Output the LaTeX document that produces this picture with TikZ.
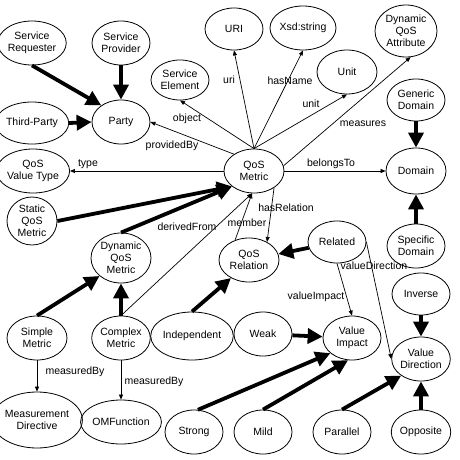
\documentclass[tikz,border=0pt]{standalone}
\usepackage{fontspec}
\setmainfont{Liberation Sans}
\usetikzlibrary{shapes.geometric,arrows.meta}
\tikzset{
  ell/.style={draw, ellipse, line width=0.8pt, inner sep=0pt, align=center,
              font=\fontsize{10.5}{12}\selectfont},
  lab/.style={inner sep=0pt, font=\fontsize{10.5}{12}\selectfont},
  thin arrow/.style={line width=0.7pt, -{Triangle[length=5pt,width=4pt]}},
  thick arrow/.style={line width=3.8pt, -{Triangle[length=15pt,width=15pt]}},
}
\newcommand{\En}[6]{\node[ell, minimum width=#4pt, minimum height=#5pt] (#1) at (#2,#3) {#6};}
\begin{document}
\begin{tikzpicture}[x=1pt,y=-1pt]
\path[use as bounding box, fill=white] (0,0) rectangle (460,460);
% nodes
\En{sr}{32}{43}{58}{44}{Service\\Requester}
\En{sp}{121}{43}{58}{44}{Service\\Provider}
\En{se}{180}{80}{58}{40}{Service\\Element}
\En{tp}{32}{123}{58}{42}{Third-Party}
\En{party}{121}{122}{58}{44}{Party}
\En{qvt}{33}{171}{60}{44}{QoS\\Value Type}
\En{sqm}{32}{221}{50}{48}{Static\\QoS\\Metric}
\En{dqm}{121}{258}{60}{50}{Dynamic\\QoS\\Metric}
\En{sm}{37}{338}{60}{44}{Simple\\Metric}
\En{cm}{121}{338}{58}{44}{Complex\\Metric}
\En{ind}{192}{336}{64}{48}{Independent}
\En{md}{37}{420}{70}{56}{Measurement\\Directive}
\En{omf}{121}{422}{58}{44}{OMFunction}
\En{strong}{194}{432}{58}{44}{Strong}
\En{uri}{234}{29}{58}{42}{URI}
\En{xsd}{303}{28}{60}{44}{Xsd:string}
\En{dqa}{406}{31}{62}{52}{Dynamic\\QoS\\Attribute}
\En{unit}{347}{72}{60}{44}{Unit}
\En{gd}{416}{100}{58}{42}{Generic\\Domain}
\En{qm}{254}{171}{60}{44}{QoS\\Metric}
\En{dom}{416}{171}{60}{46}{Domain}
\En{qr}{249}{260}{60}{44}{QoS\\Relation}
\En{rel}{337}{242}{58}{42}{Related}
\En{spd}{416}{246}{58}{44}{Specific\\Domain}
\En{inv}{421}{294}{58}{42}{Inverse}
\En{weak}{263}{334}{58}{44}{Weak}
\En{vi}{352}{338}{58}{44}{Value\\Impact}
\En{vd}{421}{359}{58}{44}{Value\\Direction}
\En{mild}{263}{432}{58}{44}{Mild}
\En{par}{342}{432}{58}{44}{Parallel}
\En{opp}{421}{432}{58}{44}{Opposite}
% thick (subclass) arrows
\draw[thick arrow] (sr.south) -- (party.140);
\draw[thick arrow] (sp.south) -- (party.north);
\draw[thick arrow] (tp.east) -- (party.west);
\draw[thick arrow] (sqm.east) -- (qm.215);
\draw[thick arrow] (dqm.north) -- (qm.215);
\draw[thick arrow] (sm.north) -- (dqm.220);
\draw[thick arrow] (cm.north) -- (dqm.south);
\draw[thick arrow] (gd.south) -- (dom.north);
\draw[thick arrow] (spd.north) -- (dom.south);
\draw[thick arrow] (rel) -- (qr);
\draw[thick arrow] (ind.north) -- (qr.225);
\draw[thick arrow] (weak) -- (vi);
\draw[thick arrow] (strong.80) -- (vi.215);
\draw[thick arrow] (mild.north) -- (vi.260);
\draw[thick arrow] (par.north) -- (vd.220);
\draw[thick arrow] (opp.north) -- (vd.south);
\draw[thick arrow] (inv.south) -- (vd.north);
% thin (property) arrows
\draw[thin arrow] (qm.north) -- (uri.south);
\draw[thin arrow] (qm.north) -- (xsd.south);
\draw[thin arrow] (qm.north) -- (unit.south);
\draw[thin arrow] (qm.north) -- (se.south);
\draw[thin arrow] (qm.140) -- (party.east);
\draw[thin arrow] (qm.west) -- (qvt.east);
\draw[thin arrow] (qm.east) -- (dom.west);
\draw[thin arrow] (qm.10) -- (dqa.280);
\draw[thin arrow] (cm.north) -- (qm.265);
\draw[thin arrow] (qr.125) -- (qm.265);
\draw[thin arrow] (qm.320) -- (qr.45);
\draw[thin arrow] (rel.south) -- (vi.north);
\draw[thin arrow] (rel.east) -- (vd.west);
\draw[thin arrow] (sm.south) -- (md.north);
\draw[thin arrow] (cm.south) -- (omf.north);
% labels
\node[lab] (l1) at (187,119) {object};
\node[lab] (l2) at (172,146) {providedBy};
\node[lab] (l3) at (88,164) {type};
\node[lab] (l4) at (187,227) {derivedFrom};
\node[lab] (l5) at (247,223) {member};
\node[lab] (l6) at (286,208) {hasRelation};
\node[lab] (l7) at (229,80) {uri};
\node[lab] (l8) at (290,81) {hasName};
\node[lab] (l9) at (311,104) {unit};
\node[lab] (l10) at (363,124) {measures};
\node[lab] (l11) at (331,164) {belongsTo};
\node[lab] (l12) at (374,266) {valueDirection};
\node[lab] (l13) at (316,297) {valueImpact};
\node[lab] (l14) at (75,372) {measuredBy};
\node[lab] (l15) at (154,382) {measuredBy};
\end{tikzpicture}
\end{document}
